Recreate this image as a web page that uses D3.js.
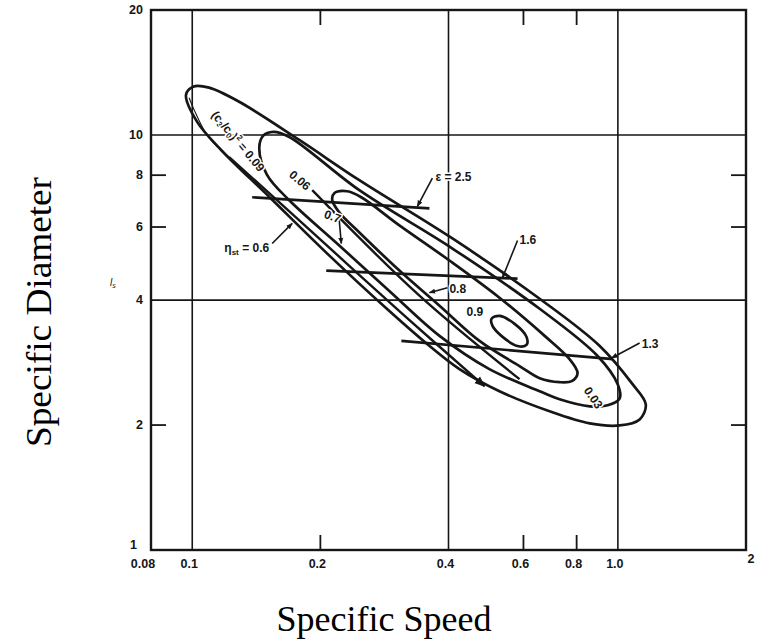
<!DOCTYPE html>
<html><head><meta charset="utf-8">
<script src="https://cdn.jsdelivr.net/npm/d3@7/dist/d3.min.js"></script>
<style>body{margin:0;background:#fff}svg{display:block}</style>
</head><body>
<svg id="c" width="784" height="641"></svg>
<script>
// ---------- axis data ----------
const xTickValues = [0.08, 0.1, 0.2, 0.4, 0.6, 0.8, 1.0, 2];
const xTickLabels = ["0.08", "0.1", "0.2", "0.4", "0.6", "0.8", "1.0", "2"];
const xGridValues = [0.1, 0.4, 1.0];
const xShortTicks = [0.2, 0.6, 0.8];
const yTickValues = [1, 2, 4, 6, 8, 10, 20];
const yTickLabels = ["1", "2", "4", "6", "8", "10", "20"];
const yGridValues = [4, 10];
const yShortTicks = [2, 6, 8];

// ---------- efficiency contours  [Ns, Ds] ----------
const eta06 = [[0.0967,12.50],[0.1005,13.07],[0.1095,13.0],[0.1289,12.02],[0.1784,9.725],[0.2469,7.78],
  [0.4086,5.63],[0.655,4.03],[0.9066,3.101],[1.078,2.523],[1.163,2.244],[1.125,2.064],[1.010,1.996],
  [0.859,2.019],[0.691,2.159],[0.527,2.413],[0.4244,2.728],[0.361,3.101],[0.29,3.77],[0.21,5.12],
  [0.152,7.08],[0.1169,9.20],[0.1027,10.75]];
const eta07 = [[0.1437,9.30],[0.1467,9.945],[0.155,10.17],[0.169,9.89],[0.2469,7.36],[0.4086,5.326],
  [0.655,3.812],[0.896,2.934],[0.999,2.509],[1.010,2.32],[0.946,2.232],[0.859,2.219],[0.7296,2.308],
  [0.655,2.413],[0.499,2.728],[0.381,3.28],[0.29,4.214],[0.2215,5.417],[0.169,6.96],[0.15,8.0]];
const eta08 = [[0.2133,6.96],[0.2156,7.238],[0.2313,7.318],[0.2495,7.078],[0.3067,6.055],[0.402,4.983],
  [0.527,4.054],[0.673,3.28],[0.770,2.884],[0.804,2.668],[0.779,2.551],[0.7296,2.537],[0.655,2.594],
  [0.5874,2.774],[0.473,3.189],[0.381,3.877],[0.3067,4.712],[0.247,5.823],[0.2215,6.51]];
const eta09 = [[0.5048,3.605],[0.527,3.666],[0.572,3.506],[0.610,3.262],[0.610,3.119],[0.581,3.101],
  [0.536,3.262],[0.5075,3.467]];

// ---------- (c3/c0)^2 lines ----------
const c09Thin = [[0.0983,12.29],[0.1015,11.37],[0.1095,9.83],[0.1221,8.845]];
const c09Line = [[0.1221,8.845],[0.1784,6.226],[0.3117,3.707],[0.4859,2.481]];
const c06Line = [[0.1914,7.36],[0.3418,4.10],[0.5874,2.58]];

// ---------- admission (epsilon) lines ----------
const eps25 = [[0.1383,7.078],[0.3608,6.656]];
const eps16 = [[0.2065,4.712],[0.5811,4.506]];
const eps13 = [[0.31,3.189],[0.9729,2.884]];

// ---------- leader arrows ----------
const leaderEps25 = [[0.3666,7.869],[0.338,6.73]];
const leaderEps16 = [[0.5811,5.57],[0.5358,4.531]];
const leaderEps13 = [[1.125,3.154],[0.967,2.901]];
const leaderEta06 = [[0.1541,5.477],[0.1717,6.122]];
const leaderEta07 = [[0.2215,6.226],[0.224,5.477]];
const leaderEta08 = [[0.3977,4.285],[0.3608,4.168]];

// ---------- label texts & anchors ----------
const labelTexts = ["ε = 2.5", "1.6", "1.3", "0.8", "0.9"];
const labelAnchors = [[0.3727,7.737],[0.5874,5.446],[1.138,3.067],[0.402,4.168],[0.4408,3.666]];
const slantTexts = ["0.7", "0.06", "0.03"];
const slantAnchors = [[0.2133,6.331],[0.1784,7.737],[0.872,2.32]];
const c09LabelAnchor = [0.1275,9.617];
const etaLabelAnchor = [0.1516,5.21];

// ---------- drawing ----------
const svg = d3.select("#c");
const x = d3.scaleLog().domain([0.08, 2]).range([151, 746]);
const y = d3.scaleLog().domain([1, 20]).range([550, 10]);
const ink = "#161616";

const defs = svg.append("defs");
defs.append("marker").attr("id","ah").attr("viewBox","0 0 10 10").attr("refX",9).attr("refY",5)
  .attr("markerWidth",4.5).attr("markerHeight",4.5).attr("orient","auto")
  .append("path").attr("d","M0,1 L10,5 L0,9 z").attr("fill",ink);
defs.append("marker").attr("id","ah2").attr("viewBox","0 0 10 10").attr("refX",9).attr("refY",5)
  .attr("markerWidth",4).attr("markerHeight",4).attr("orient","auto")
  .append("path").attr("d","M0,1 L10,5 L0,9 z").attr("fill",ink);

const g = svg.append("g");

// grid lines
g.selectAll(".xg").data(xGridValues).join("line")
  .attr("x1", d => x(d)).attr("x2", d => x(d)).attr("y1", y(20)).attr("y2", y(1))
  .attr("stroke", ink).attr("stroke-width", 1.6);
g.selectAll(".yg").data(yGridValues).join("line")
  .attr("x1", x(0.08)).attr("x2", x(2)).attr("y1", d => y(d)).attr("y2", d => y(d))
  .attr("stroke", ink).attr("stroke-width", 1.6);

// frame
g.append("rect").attr("x", x(0.08)).attr("y", y(20)).attr("width", x(2) - x(0.08)).attr("height", y(1) - y(20))
  .attr("fill", "none").attr("stroke", ink).attr("stroke-width", 2.4);

// short ticks
const tl = 15;
xShortTicks.forEach(v => {
  g.append("line").attr("x1", x(v)).attr("x2", x(v)).attr("y1", y(1)).attr("y2", y(1) - tl).attr("stroke", ink).attr("stroke-width", 1.8);
  g.append("line").attr("x1", x(v)).attr("x2", x(v)).attr("y1", y(20)).attr("y2", y(20) + tl).attr("stroke", ink).attr("stroke-width", 1.8);
});
yShortTicks.forEach(v => {
  g.append("line").attr("x1", x(0.08)).attr("x2", x(0.08) + tl).attr("y1", y(v)).attr("y2", y(v)).attr("stroke", ink).attr("stroke-width", 1.8);
  g.append("line").attr("x1", x(2)).attr("x2", x(2) - tl).attr("y1", y(v)).attr("y2", y(v)).attr("stroke", ink).attr("stroke-width", 1.8);
});

// tick labels
const tickFont = "'Liberation Sans Narrow', 'Liberation Sans', Arial, sans-serif";
g.selectAll(".xt").data(xTickValues).join("text")
  .attr("x", (d, i) => x(d) + (i === 0 ? -8 : (i === xTickValues.length - 1 ? 5 : -3)))
  .attr("y", (d, i) => i === xTickValues.length - 1 ? 563 : 568)
  .attr("text-anchor", "middle").attr("font-family", tickFont).attr("font-weight", "bold")
  .attr("font-size", 12.5).attr("fill", ink).text((d, i) => xTickLabels[i]);
g.selectAll(".yt").data(yTickValues).join("text")
  .attr("x", (d, i) => i === 0 ? 137 : 143)
  .attr("y", (d, i) => y(d) + (i === 0 ? -1 : 4))
  .attr("text-anchor", "end").attr("font-family", tickFont).attr("font-weight", "bold")
  .attr("font-size", 12.5).attr("fill", ink).text((d, i) => yTickLabels[i]);

// small axis symbol
const ls = g.append("text").attr("x", 110).attr("y", 286).attr("font-family", "'Liberation Sans', Arial, sans-serif")
  .attr("font-style", "italic").attr("font-size", 10).attr("fill", ink);
ls.append("tspan").text("l");
ls.append("tspan").attr("font-size", 7).attr("dy", 2).text("s");

// curves
const loop = d3.line().x(d => x(d[0])).y(d => y(d[1])).curve(d3.curveCatmullRomClosed.alpha(0.5));
const open = d3.line().x(d => x(d[0])).y(d => y(d[1])).curve(d3.curveCatmullRom.alpha(0.5));
const straight = d3.line().x(d => x(d[0])).y(d => y(d[1]));

[eta06, eta07, eta08, eta09].forEach(pts => {
  g.append("path").attr("d", loop(pts)).attr("fill", "none").attr("stroke", ink).attr("stroke-width", 2.7);
});
g.append("path").attr("d", open(c09Thin)).attr("fill", "none").attr("stroke", ink).attr("stroke-width", 1.1);
g.append("path").attr("d", open(c09Line)).attr("fill", "none").attr("stroke", ink).attr("stroke-width", 2.4)
  .attr("marker-end", "url(#ah)");
g.append("path").attr("d", open(c06Line)).attr("fill", "none").attr("stroke", ink).attr("stroke-width", 2.4);

[eps25, eps16, eps13].forEach(pts => {
  g.append("path").attr("d", straight(pts)).attr("fill", "none").attr("stroke", ink).attr("stroke-width", 2.7);
});

[leaderEps25, leaderEps16, leaderEps13, leaderEta06, leaderEta07, leaderEta08].forEach(pts => {
  g.append("path").attr("d", straight(pts)).attr("fill", "none").attr("stroke", ink).attr("stroke-width", 1.6)
    .attr("marker-end", "url(#ah2)");
});

// labels
const labFont = "'Liberation Sans', Arial, sans-serif";
labelTexts.forEach((t, i) => {
  g.append("text").attr("x", x(labelAnchors[i][0])).attr("y", y(labelAnchors[i][1]))
    .attr("font-family", labFont).attr("font-weight", "bold").attr("font-size", 12).attr("fill", ink)
    .attr("stroke", "#fff").attr("stroke-width", 3).attr("paint-order", "stroke").text(t);
});
const slantRot = [20, 40, 55];
slantTexts.forEach((t, i) => {
  const px = x(slantAnchors[i][0]), py = y(slantAnchors[i][1]);
  g.append("text").attr("x", px).attr("y", py).attr("text-anchor", "middle").attr("dominant-baseline", "middle")
    .attr("transform", `rotate(${slantRot[i]},${px},${py})`)
    .attr("font-family", labFont).attr("font-weight", "bold").attr("font-size", 12).attr("fill", ink)
    .attr("stroke", "#fff").attr("stroke-width", 3).attr("paint-order", "stroke").text(t);
});
{
  const px = x(c09LabelAnchor[0]), py = y(c09LabelAnchor[1]);
  const t = g.append("text").attr("x", px).attr("y", py).attr("text-anchor", "middle").attr("dominant-baseline", "middle")
    .attr("transform", `rotate(50,${px},${py})`)
    .attr("font-family", labFont).attr("font-weight", "bold").attr("font-size", 12).attr("fill", ink)
    .attr("stroke", "#fff").attr("stroke-width", 3).attr("paint-order", "stroke");
  t.append("tspan").text("(c");
  t.append("tspan").attr("font-size", 8).attr("dy", 3).text("3");
  t.append("tspan").attr("dy", -3).text("/c");
  t.append("tspan").attr("font-size", 8).attr("dy", 3).text("0");
  t.append("tspan").attr("dy", -3).text(")");
  t.append("tspan").attr("font-size", 8).attr("dy", -4).text("2");
  t.append("tspan").attr("dy", 4).text(" = 0.09");
}
{
  const t = g.append("text").attr("x", x(etaLabelAnchor[0])).attr("y", y(etaLabelAnchor[1]))
    .attr("text-anchor", "end").attr("font-family", labFont).attr("font-weight", "bold")
    .attr("font-size", 12).attr("fill", ink);
  t.append("tspan").text("η");
  t.append("tspan").attr("font-size", 8).attr("dy", 3).text("st");
  t.append("tspan").attr("dy", -3).text(" = 0.6");
}

// axis titles
svg.append("text").attr("x", 384).attr("y", 631).attr("text-anchor", "middle")
  .attr("font-family", "'Liberation Serif', 'Times New Roman', serif").attr("font-size", 36)
  .attr("fill", "#000").text("Specific Speed");
svg.append("text").attr("transform", "translate(51,312) rotate(-90)").attr("text-anchor", "middle")
  .attr("font-family", "'Liberation Serif', 'Times New Roman', serif").attr("font-size", 36)
  .attr("fill", "#000").attr("textLength", 270).attr("lengthAdjust", "spacingAndGlyphs").text("Specific Diameter");
</script>
</body></html>
